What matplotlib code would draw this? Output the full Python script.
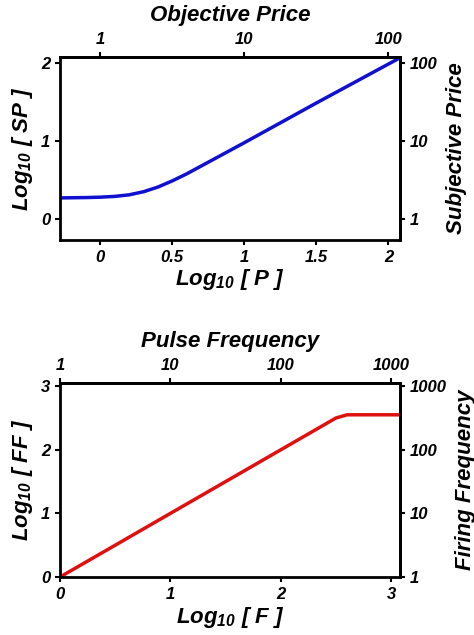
import matplotlib
matplotlib.use("Agg")
import matplotlib.pyplot as plt
import numpy as np

# top panel: log10 price vs log10 subjective price
logP = [-0.3, -0.1, 0.0, 0.1, 0.2, 0.3, 0.4, 0.5, 0.6, 0.8, 1.0, 1.5, 2.1]
logSP = [0.27, 0.275, 0.28, 0.29, 0.31, 0.35, 0.41, 0.49, 0.58, 0.78, 0.98, 1.49, 2.09]
top_ticks = [0, 1, 2]
top_ticklabels = ["1", "10", "100"]

# bottom panel: log10 pulse frequency vs log10 firing frequency
logF = [0.0, 2.5, 2.6, 3.1]
logFF = [0.0, 2.5, 2.55, 2.55]
bot_ticks = [0, 1, 2, 3]
bot_ticklabels = ["1", "10", "100", "1000"]

fp = dict(fontweight="bold", fontstyle="italic")
plt.rcParams["font.family"] = ["Liberation Sans", "DejaVu Sans"]
plt.rcParams["mathtext.fontset"] = "custom"
plt.rcParams["mathtext.it"] = "Liberation Sans:bold:italic"
plt.rcParams["mathtext.rm"] = "Liberation Sans:bold:italic"
fig = plt.figure(figsize=(4.74, 6.35), dpi=100)

def style(ax):
    for s in ax.spines.values():
        s.set_linewidth(2)
    ax.tick_params(width=1.5, labelsize=12)
    for t in ax.get_xticklabels() + ax.get_yticklabels():
        t.set_fontweight("bold"); t.set_fontstyle("italic")

ax1 = fig.add_axes([60/474, 1-240/635, 340/474, 183/635])
ax1.plot(logP, logSP, color="#1010d0", lw=2.5)
ax1.set_xlim(-0.28, 2.08); ax1.set_ylim(-0.27, 2.08)
ax1.set_xticks([0, 0.5, 1, 1.5, 2]); ax1.set_xticklabels(["0", "0.5", "1", "1.5", "2"])
ax1.set_yticks([0, 1, 2])
ax1.set_xlabel("Log$_{10}$ [ P ]", fontsize=16, labelpad=2, **fp)
ax1.set_ylabel("Log$_{10}$ [ SP ]", fontsize=16, **fp)
t1 = ax1.secondary_xaxis("top"); t1.set_xticks(top_ticks); t1.set_xticklabels(top_ticklabels)
t1.set_xlabel("Objective Price", fontsize=16, labelpad=8, **fp)
r1 = ax1.secondary_yaxis("right"); r1.set_yticks(top_ticks); r1.set_yticklabels(top_ticklabels)
r1.set_ylabel("Subjective Price", fontsize=16, labelpad=6, **fp)
for a in (ax1, t1, r1): style(a)

ax2 = fig.add_axes([60/474, 1-577/635, 340/474, 194/635])
ax2.plot(logF, logFF, color="#e01010", lw=2.5)
ax2.set_xlim(0, 3.08); ax2.set_ylim(0, 3.05)
ax2.set_xticks(bot_ticks); ax2.set_yticks(bot_ticks)
ax2.set_xlabel("Log$_{10}$ [ F ]", fontsize=16, labelpad=2, **fp)
ax2.set_ylabel("Log$_{10}$ [ FF ]", fontsize=16, **fp)
t2 = ax2.secondary_xaxis("top"); t2.set_xticks(bot_ticks); t2.set_xticklabels(bot_ticklabels)
t2.set_xlabel("Pulse Frequency", fontsize=16, labelpad=8, **fp)
r2 = ax2.secondary_yaxis("right"); r2.set_yticks(bot_ticks); r2.set_yticklabels(bot_ticklabels)
r2.set_ylabel("Firing Frequency", fontsize=16, labelpad=6, **fp)
for a in (ax2, t2, r2): style(a)

fig.savefig("out.png", dpi=100)
